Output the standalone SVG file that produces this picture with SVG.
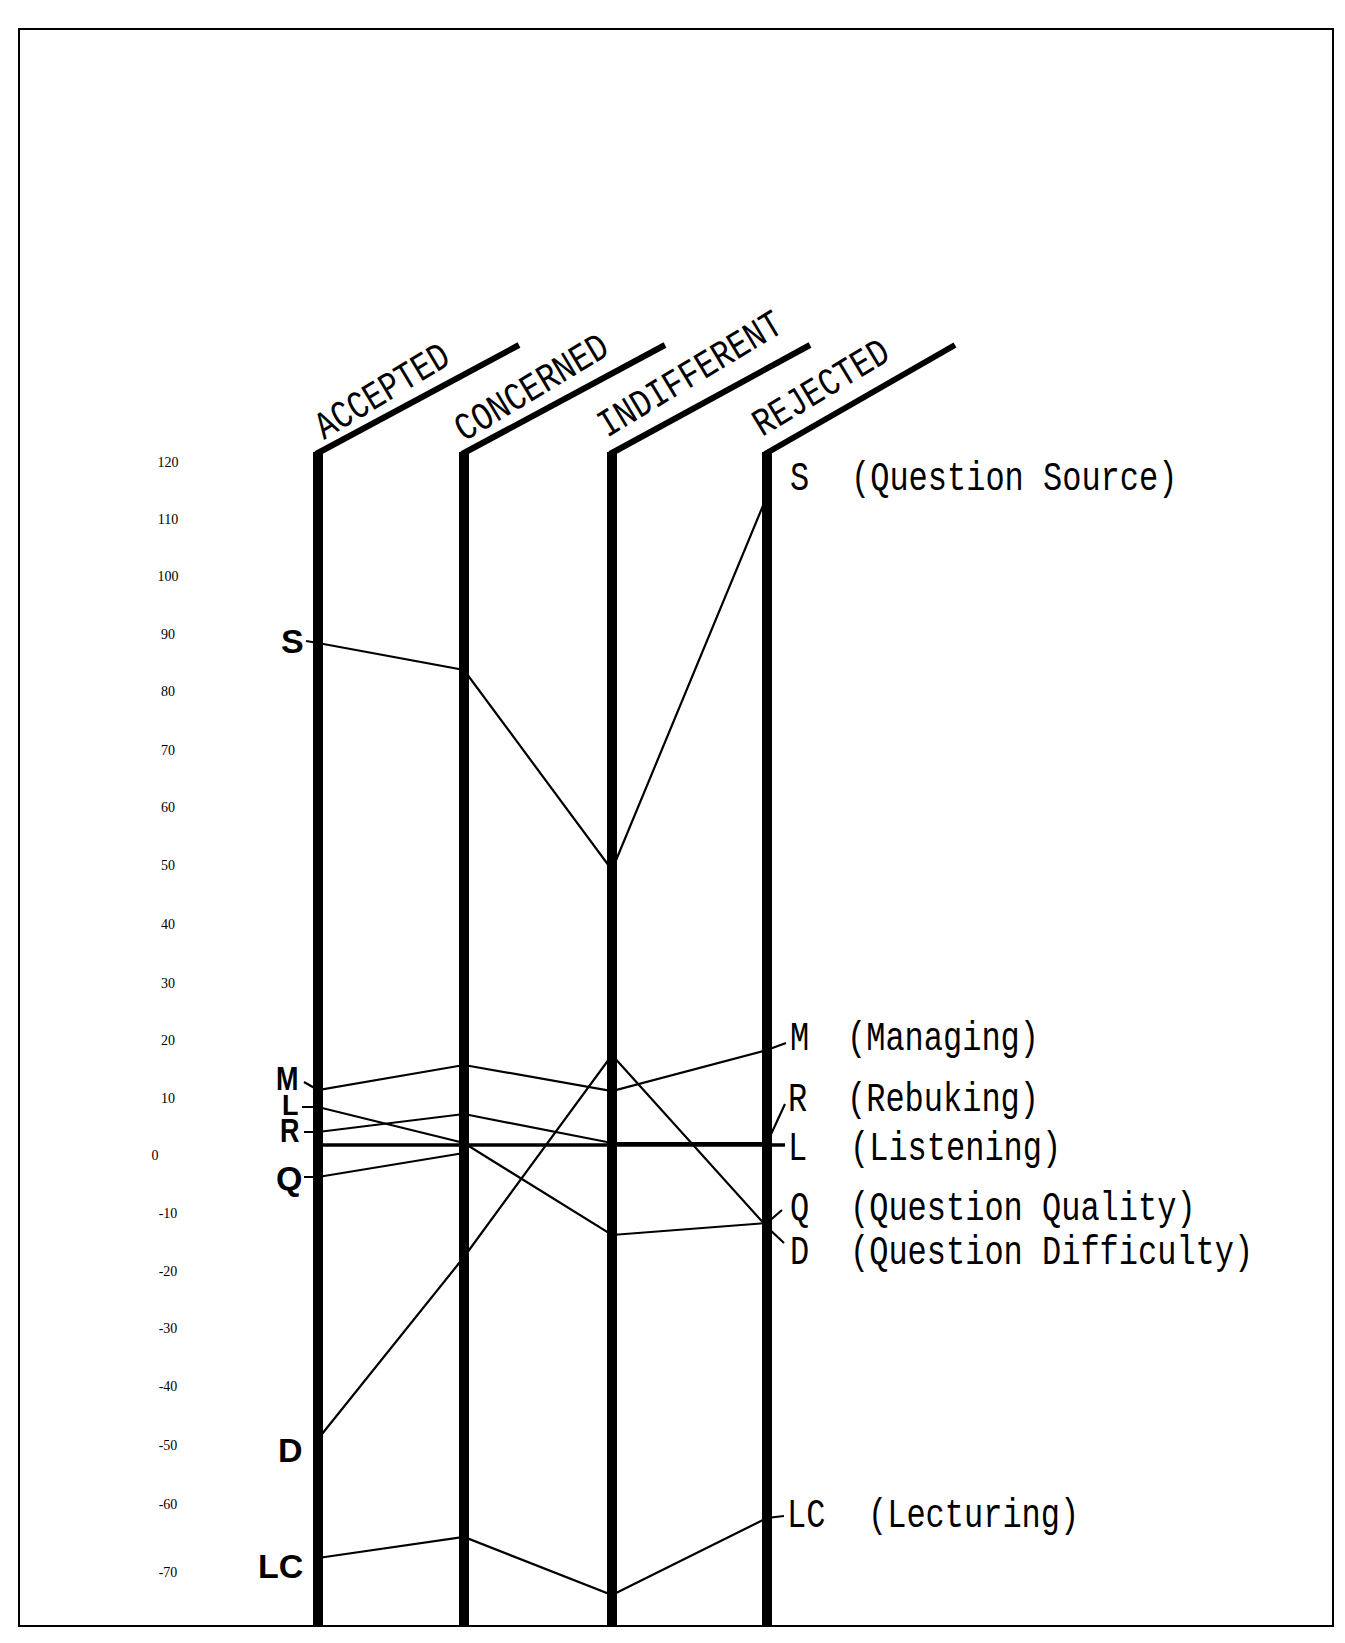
<svg xmlns="http://www.w3.org/2000/svg" width="1345" height="1643" viewBox="0 0 1345 1643">
<style>
.ax{fill:none;stroke:#000;stroke-width:10;stroke-linejoin:miter}
.dg{fill:none;stroke:#000;stroke-width:6}
.ln{fill:none;stroke:#000;stroke-width:2.2}
.tk{font-family:"Liberation Serif",serif;font-size:14px;fill:#000;text-anchor:middle}
.lb{font-family:"Liberation Sans Narrow","Liberation Sans",sans-serif;font-weight:bold;font-size:34px;fill:#000}
.ls{font-family:"Liberation Sans Narrow","Liberation Sans",sans-serif;font-weight:bold;font-size:27px;fill:#000}
.rt{font-family:"Liberation Mono",monospace;font-size:32px;fill:#000}
.tt{font-family:"Liberation Mono",monospace;font-size:30px;fill:#000}
</style>
<rect x="19" y="29" width="1314" height="1597" fill="#fff" stroke="#000" stroke-width="2"/>
<g id="ticks">
<text class="tk" x="168" y="467">120</text><text class="tk" x="168" y="524">110</text><text class="tk" x="168" y="581">100</text><text class="tk" x="168" y="639">90</text><text class="tk" x="168" y="696">80</text><text class="tk" x="168" y="755">70</text><text class="tk" x="168" y="812">60</text><text class="tk" x="168" y="870">50</text><text class="tk" x="168" y="929">40</text><text class="tk" x="168" y="988">30</text><text class="tk" x="168" y="1045">20</text><text class="tk" x="168" y="1103">10</text><text class="tk" x="155" y="1160">0</text><text class="tk" x="168" y="1218">-10</text><text class="tk" x="168" y="1276">-20</text><text class="tk" x="168" y="1333">-30</text><text class="tk" x="168" y="1391">-40</text><text class="tk" x="168" y="1450">-50</text><text class="tk" x="168" y="1509">-60</text><text class="tk" x="168" y="1577">-70</text>
</g>
<g id="axis-accepted"><path class="ax" d="M318,1626 V452"/><path class="dg" d="M316,454 L519,345"/><text class="tt" transform="translate(324,440) rotate(-31) scale(1,1.3)" textLength="150" lengthAdjust="spacingAndGlyphs">ACCEPTED</text></g>
<g id="axis-concerned"><path class="ax" d="M464,1626 V452"/><path class="dg" d="M462,454 L665,345"/><text class="tt" transform="translate(464,442) rotate(-31) scale(1,1.3)" textLength="172" lengthAdjust="spacingAndGlyphs">CONCERNED</text></g>
<g id="axis-indifferent"><path class="ax" d="M612,1626 V452"/><path class="dg" d="M610,454 L810,345"/><text class="tt" transform="translate(607,438) rotate(-31) scale(1,1.3)" textLength="208" lengthAdjust="spacingAndGlyphs">INDIFFERENT</text></g>
<g id="axis-rejected"><path class="ax" d="M767,1626 V452"/><path class="dg" d="M765,454 L955,345"/><text class="tt" transform="translate(762,437) rotate(-31) scale(1,1.3)" textLength="152" lengthAdjust="spacingAndGlyphs">REJECTED</text></g>
<g id="connectors">
<path class="ln" d="M306,641 L318,643 L464,670 L612,870 L767,496"/>
<path class="ln" d="M304,1082 L318,1090 L464,1065 L612,1091 L767,1050 L786,1043"/>
<path class="ln" d="M302,1107 L318,1107 L464,1143 L612,1235 L767,1223 L782,1210"/>
<path class="ln" d="M304,1132 L318,1132 L464,1114 L612,1143 L767,1143 L785,1104"/>
<path class="ln" style="stroke-width:3.5" d="M318,1145 L767,1145 L785,1145"/>
<path class="ln" d="M304,1177 L318,1177 L464,1153"/>
<path class="ln" d="M318,1439 L464,1257 L612,1055 L767,1227 L784,1243"/>
<path class="ln" d="M318,1558 L464,1537 L612,1595 L767,1518 L784,1516"/>
</g>
<g id="left-labels">
<text class="lb" x="281" y="653">S</text>
<text class="ls" transform="translate(276,1090) scale(1,1.2)">M</text>
<text class="ls" transform="translate(282,1115) scale(1,1.1)">L</text>
<text class="ls" transform="translate(280,1142) scale(1,1.2)">R</text>
<text class="lb" x="276" y="1190">Q</text>
<text class="lb" x="278" y="1462">D</text>
<text class="lb" x="258" y="1578">LC</text>
</g>
<g id="right-labels">
<text class="rt" transform="translate(0,490) scale(1,1.25)"><tspan x="790">S</tspan><tspan x="851">(Question Source)</tspan></text>
<text class="rt" transform="translate(0,1050) scale(1,1.25)"><tspan x="790">M</tspan><tspan x="847">(Managing)</tspan></text>
<text class="rt" transform="translate(0,1111) scale(1,1.25)"><tspan x="788">R</tspan><tspan x="847">(Rebuking)</tspan></text>
<text class="rt" transform="translate(0,1160) scale(1,1.25)"><tspan x="788">L</tspan><tspan x="850">(Listening)</tspan></text>
<text class="rt" transform="translate(0,1220) scale(1,1.25)"><tspan x="790">Q</tspan><tspan x="850">(Question Quality)</tspan></text>
<text class="rt" transform="translate(0,1264) scale(1,1.25)"><tspan x="790">D</tspan><tspan x="850">(Question Difficulty)</tspan></text>
<text class="rt" transform="translate(0,1527) scale(1,1.25)"><tspan x="787">LC</tspan><tspan x="868">(Lecturing)</tspan></text>
</g>
</svg>
